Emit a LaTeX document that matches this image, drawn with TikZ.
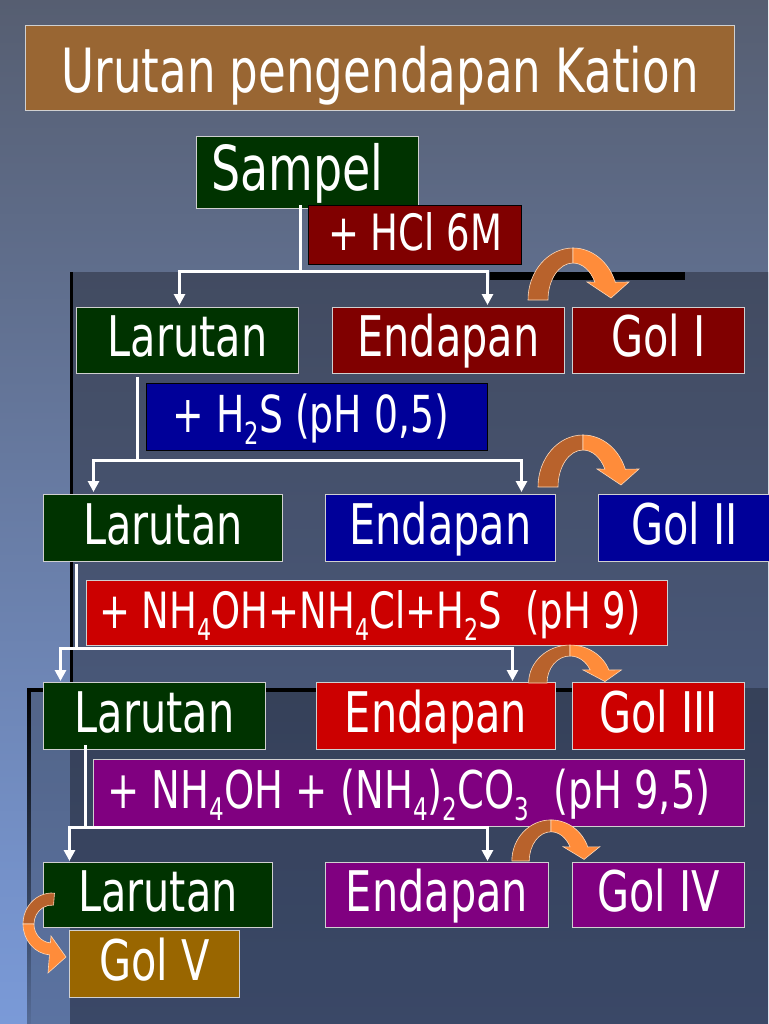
\documentclass[tikz,border=0pt]{standalone}
\usepackage{fontspec}
\setmainfont{DejaVu Sans}[FakeStretch=0.74]
\usepackage{graphicx}
\usetikzlibrary{arrows.meta}
\definecolor{bgtop}{HTML}{565E71}
\definecolor{bgbot}{HTML}{7A9AD8}
\definecolor{ptop}{HTML}{424B61}
\definecolor{pbot}{HTML}{4E618A}
\definecolor{dgreen}{HTML}{003300}
\definecolor{maroon}{HTML}{800000}
\definecolor{dblue}{HTML}{000099}
\definecolor{bred}{HTML}{CC0000}
\definecolor{purp}{HTML}{800080}
\definecolor{gold}{HTML}{996600}
\definecolor{titlebr}{HTML}{996633}
\definecolor{odark}{HTML}{B8622C}
\definecolor{olight}{HTML}{FF8C3A}
\definecolor{orim}{HTML}{FFD8B8}
\definecolor{boxline}{HTML}{D0D0D0}
\newcommand{\fsz}[1]{\fontsize{#1}{#1}\selectfont}
\newcommand{\lsub}[1]{\raisebox{-0.24em}{\scalebox{0.6}{#1}}}
\begin{document}
\begin{tikzpicture}[x=1pt,y=-1pt,
  box/.style={draw=boxline,line width=1pt,text=white,inner sep=0pt,anchor=north west},
  wh/.style 2 args={minimum width=#1pt,minimum height=#2pt},
  big/.style={font=\fsz{56},text height=42pt,text depth=10pt},
  reag/.style={text height=38pt,text depth=8pt},
  wline/.style={draw=white,line width=3pt},
  warr/.style={wline,-{Triangle[width=11pt,length=11pt]}},
  orangearc/.pic={
    \fill[odark,draw=orim,line width=0.6pt] (-45,0) arc[start angle=180,end angle=270,x radius=45,y radius=52]
      -- (0,-37) arc[start angle=270,end angle=180,x radius=25,y radius=37] -- cycle;
    \fill[olight,draw=orim,line width=0.6pt] (0,-52) arc[start angle=270,end angle=340,x radius=45,y radius=52]
      -- (56,-18) -- (38,-2) -- (14,-18) -- (21.9,-17.9)
      arc[start angle=331,end angle=270,x radius=25,y radius=37] -- cycle;
  }]
\useasboundingbox (0,0) rectangle (768,1024);
% background
\shade[top color=bgtop,bottom color=bgbot] (0,0) rectangle (768,1024);
\shade[top color=ptop,bottom color=pbot] (70,272) rectangle (768,1024);
\fill[black] (70,272) rectangle (73,688);
\fill[black] (490,272) rectangle (685,280);
\fill[black,opacity=0.25] (27,688) rectangle (768,1024);
\shade[top color=black,bottom color=black!30!bgbot] (27,688) rectangle (30.5,1024);
\fill[black] (27,688) rectangle (572,692);
% title
\node[box,wh={709}{85},fill=titlebr,font=\fsz{61},text height=55pt,text depth=6pt] (title) at (25,25) {Urutan pengendapan Kation};
% boxes
\node[box,wh={222}{72},fill=dgreen,font=\fsz{62},text height=47pt,text depth=11pt] (sampel) at (196,136) {Sampel\hspace*{20pt}};
\node[box,reag,wh={213}{59},fill=maroon,draw=black,font=\fsz{50}] (hcl) at (308,205) {+ HCl 6M};
\node[box,big,wh={222}{66},fill=dgreen] (lar1) at (76,307) {Larutan};
\node[box,big,wh={232}{66},fill=maroon] (end1) at (332,307) {Endapan};
\node[box,big,wh={172}{66},fill=maroon] (gol1) at (572,307) {Gol I};
\node[box,reag,wh={341}{67},fill=dblue,draw=black,font=\fsz{51}] (h2s) at (146,383) {+ H\lsub{2}S (pH 0,5)\hspace*{12pt}};
\node[box,big,wh={239}{67},fill=dgreen] (lar2) at (43,494) {Larutan};
\node[box,big,wh={230}{67},fill=dblue] (end2) at (325,494) {Endapan};
\node[box,big,wh={172}{67},fill=dblue] (gol2) at (598,494) {Gol II};
\node[box,reag,wh={581}{65},fill=bred,font=\fsz{50}] (nh4) at (86,580) {+ NH\lsub{4}OH+NH\lsub{4}Cl+H\lsub{2}S\ \ (pH 9)\hspace*{14pt}};
\node[box,big,wh={222}{67},fill=dgreen] (lar3) at (43,682) {Larutan};
\node[box,big,wh={239}{67},fill=bred] (end3) at (316,682) {Endapan};
\node[box,big,wh={172}{67},fill=bred] (gol3) at (572,682) {Gol III};
\node[box,reag,wh={651}{67},fill=purp,font=\fsz{52}] (carb) at (93,759) {+ NH\lsub{4}OH + (NH\lsub{4})\lsub{2}CO\lsub{3}\ \ (pH 9,5)\hspace*{20pt}};
\node[box,big,wh={229}{65},fill=dgreen] (lar4) at (43,862) {Larutan};
\node[box,big,wh={223}{65},fill=purp] (end4) at (325,862) {Endapan};
\node[box,big,wh={172}{65},fill=purp] (gol4) at (572,862) {Gol IV};
\node[box,big,wh={170}{67},fill=gold] (gol5) at (69,930) {Gol V};
% connectors
\coordinate (j1) at (300,271);
\draw[wline] ([yshift=4pt]sampel.south -| j1) -- (j1);
\draw[warr] (j1) -| ([xshift=-8pt,yshift=2pt]lar1.north);
\draw[warr] (j1) -| ([xshift=39pt,yshift=2pt]end1.north);
\coordinate (j2) at (137,460);
\draw[wline] ([yshift=-3pt]lar1.south -| j2) -- (j2);
\draw[warr] (j2) -| ([xshift=-69.5pt,yshift=2pt]lar2.north);
\draw[warr] (j2) -| ([xshift=81pt,yshift=2pt]end2.north);
\coordinate (j3) at (76,648);
\draw[wline] ([yshift=-2pt]lar2.south -| j3) -- (j3);
\draw[warr] (j3) -| ([xshift=-94pt,yshift=1pt]lar3.north);
\draw[warr] (j3) -| ([xshift=76.5pt,yshift=1pt]end3.north);
\coordinate (j4) at (85,827);
\draw[wline] ([yshift=5pt]lar3.south -| j4) -- (j4);
\draw[warr] (j4) -| ([xshift=-88.5pt,yshift=1pt]lar4.north);
\draw[warr] (j4) -| ([xshift=50.5pt,yshift=1pt]end4.north);
% orange arrows
\pic at (573,300) {orangearc};
\pic at (583,487) {orangearc};
\pic[xscale=0.92,yscale=0.73] at (570,683) {orangearc};
\pic[xscale=0.87,yscale=0.79] at (551,861) {orangearc};
\fill[odark,draw=orim,line width=0.6pt] (54.5,893.1) arc[start angle=-85,end angle=-180,x radius=29,y radius=31]
  -- (34,924) arc[start angle=-180,end angle=-85,x radius=18,y radius=19] -- cycle;
\fill[olight,draw=orim,line width=0.6pt] (23,924) arc[start angle=-180,end angle=-265,x radius=29,y radius=31]
  -- (48,973) -- (66,957) -- (51,936) -- (50.4,942.9)
  arc[start angle=-265,end angle=-180,x radius=18,y radius=19] -- cycle;
\end{tikzpicture}
\end{document}
